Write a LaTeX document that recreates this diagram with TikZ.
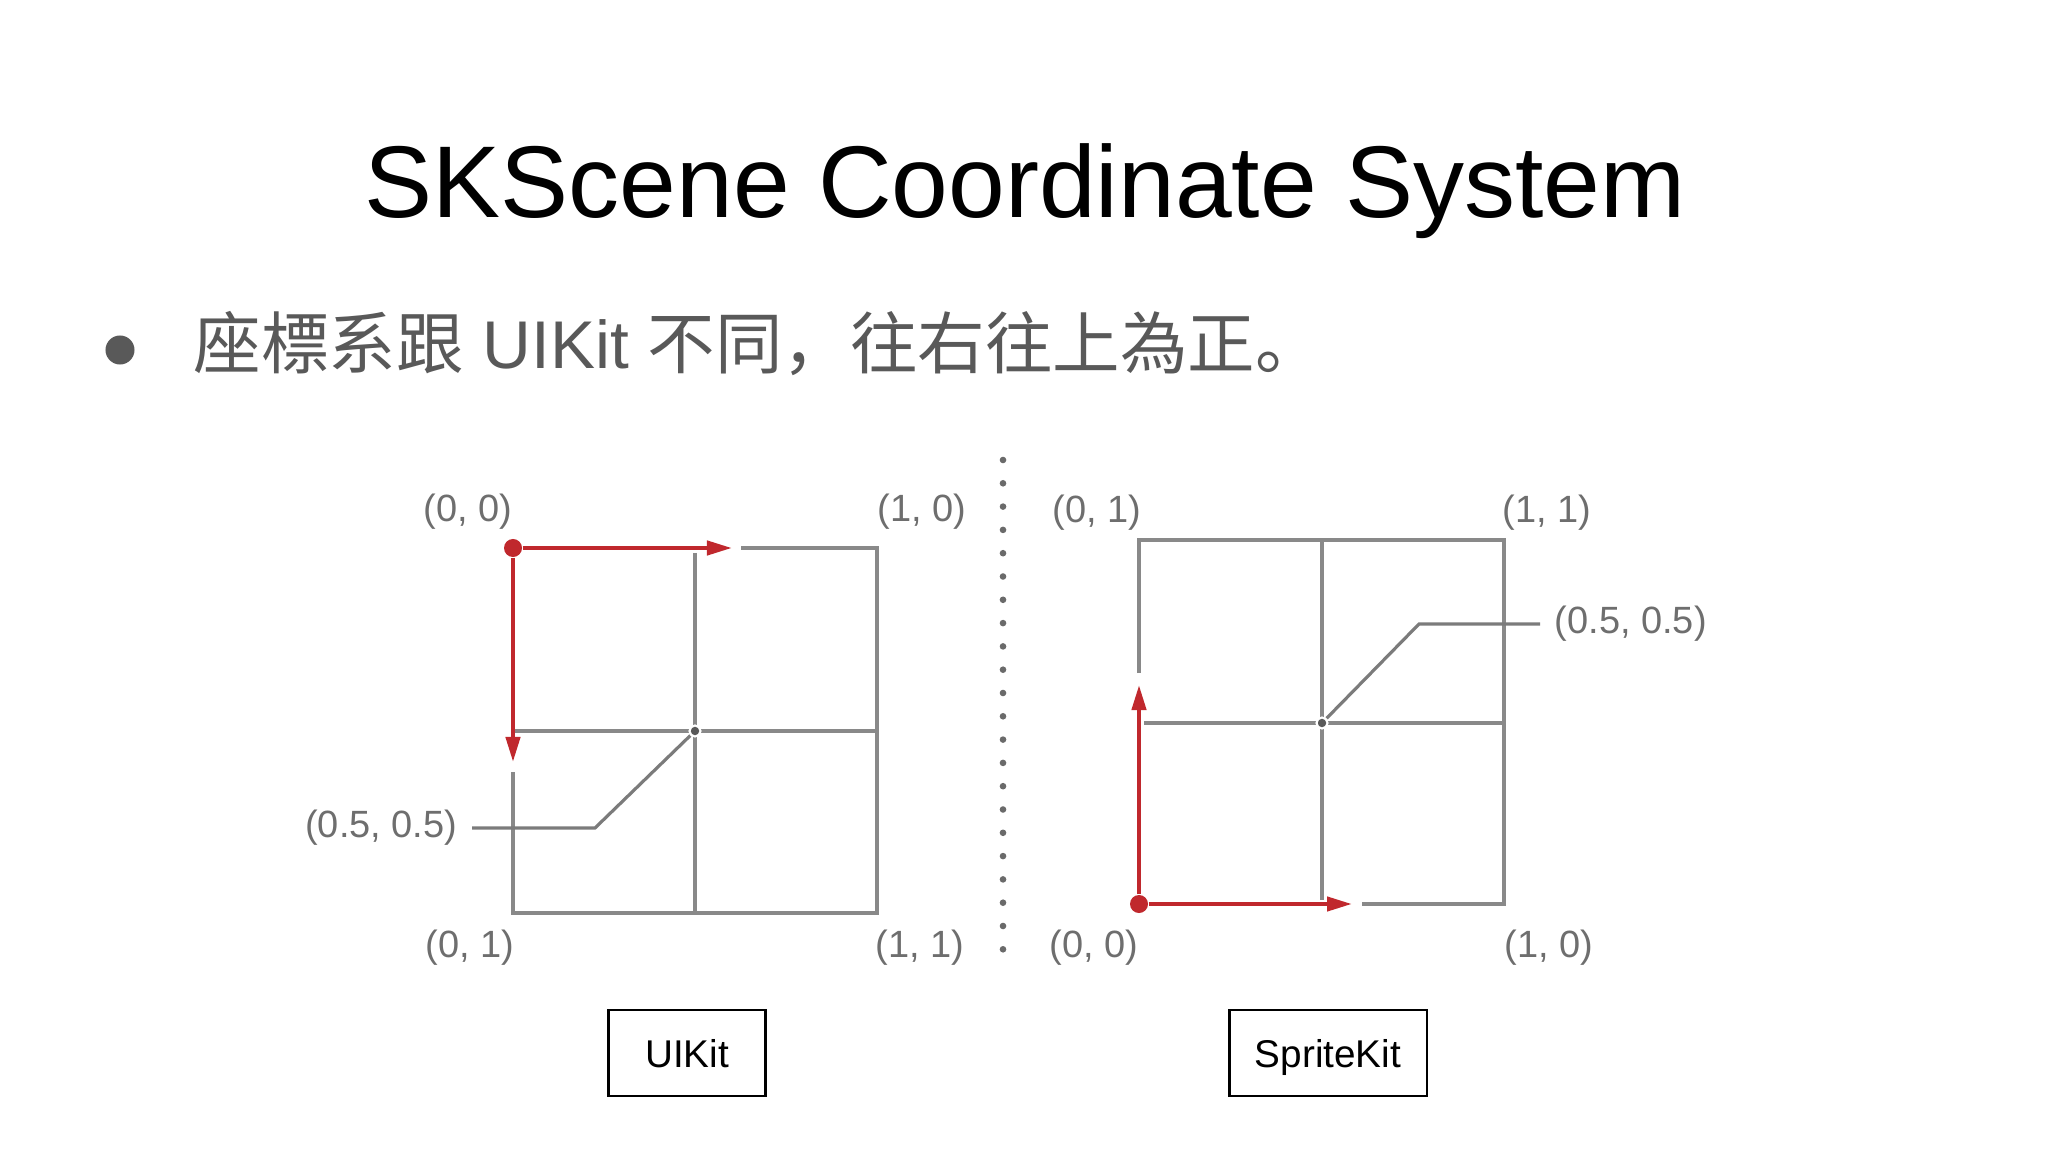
\documentclass[tikz,border=0pt]{standalone}
\usepackage{fontspec}
\setmainfont{Liberation Sans}
\newfontfamily\cjk{Noto Sans CJK SC}
\usetikzlibrary{arrows.meta,positioning}
\definecolor{slidegray}{HTML}{595959}
\definecolor{gridgray}{HTML}{898989}
\definecolor{lblgray}{HTML}{6E6E6E}
\definecolor{axisred}{HTML}{C0282D}
\tikzset{
    gridline/.style={
        draw=gridgray,
        line width=0.9pt
    },
    axis/.style={
        -{Triangle[length=0.25cm,width=0.14cm]},
        draw=axisred,
        line width=1.2pt
    },
    origin/.style={circle, fill=axisred, inner sep=0pt, minimum size=0.18cm},
    midpt/.style={circle, fill=black!65, draw=white, line width=0.6pt, inner sep=0pt, minimum size=0.11cm},
    lbl/.style={text=lblgray, font=\fontsize{10.8}{13}\selectfont, inner sep=4pt},
    leader/.style={draw=gridgray!90!black, line width=0.9pt},
    kitbox/.style={
        rectangle,
        draw=black,
        line width=0.6pt,
        minimum height=0.86cm,
        text depth=0pt,
        font=\fontsize{11}{13}\selectfont
    }
}

\begin{document}
\begin{tikzpicture}[x=0.01cm, y=-0.01cm]
        \fill[white] (0,0) rectangle (2048,1152);

        % Title
        \node (title) [anchor=base, inner sep=0pt, font=\fontsize{29}{34}\selectfont] at (1025,218) {SKScene Coordinate System};

        % Bullet line
        \node (bullet) [circle, fill=slidegray, inner sep=0pt, minimum size=0.29cm] at (120,350) {};
        \node (point) [anchor=base west, inner sep=0pt, text=slidegray, font=\fontsize{19.2}{23}\selectfont] at (193,369) {{\cjk 座標系跟} UIKit {\cjk 不同，往右往上為正。}};

        % UIKit grid
        \draw[gridline] (741,548) -- (877,548) -- (877,913) -- (513,913) -- (513,772);
        \draw[gridline] (695,553) -- (695,913);
        \draw[gridline] (515,731) -- (877,731);
        \node (ui-o) [origin] at (513,548) {};
        \coordinate (ui-xtip) at (732,548);
        \coordinate (ui-ytip) at (513,762);
        \draw[axis] (ui-o) -- (ui-xtip);
        \draw[axis] (ui-o) -- (ui-ytip);
        \node (ui-c) [midpt] at (695,731) {};

        \node (ui-00) [lbl] at (468,512) {(0, 0)};
        \node (ui-10) [lbl] at (922,512) {(1, 0)};
        \node (ui-01) [lbl] at (470,948) {(0, 1)};
        \node (ui-11) [lbl] at (920,948) {(1, 1)};
        \node (ui-half) [lbl, anchor=east] at (472,828) {(0.5, 0.5)};
        \draw[leader] (ui-c) -- (595,828) -- (ui-half);

        % Separator
        \foreach \k in {0,...,21}
            \fill[slidegray!90] (1003,{460+23.3*\k}) circle[radius=0.033cm];

        % SpriteKit grid
        \draw[gridline] (1139,673) -- (1139,540) -- (1504,540) -- (1504,904) -- (1362,904);
        \draw[gridline] (1322,540) -- (1322,900);
        \draw[gridline] (1144,723) -- (1504,723);
        \node (sk-o) [origin] at (1139,904) {};
        \coordinate (sk-xtip) at (1352,904);
        \coordinate (sk-ytip) at (1139,685);
        \draw[axis] (sk-o) -- (sk-xtip);
        \draw[axis] (sk-o) -- (sk-ytip);
        \node (sk-c) [midpt] at (1322,723) {};

        \node (sk-01) [lbl] at (1097,513) {(0, 1)};
        \node (sk-11) [lbl] at (1547,513) {(1, 1)};
        \node (sk-00) [lbl] at (1094,948) {(0, 0)};
        \node (sk-10) [lbl] at (1549,948) {(1, 0)};
        \node (sk-half) [lbl, anchor=west] at (1540,624) {(0.5, 0.5)};
        \draw[leader] (sk-c) -- (1419,624) -- (sk-half);

        % Captions
        \node (uikit) [kitbox, minimum width=1.57cm] at (687,1053) {UIKit};
        \node (spritekit) [kitbox, minimum width=1.97cm] at (1328,1053) {SpriteKit};

    \end{tikzpicture}
\end{document}
